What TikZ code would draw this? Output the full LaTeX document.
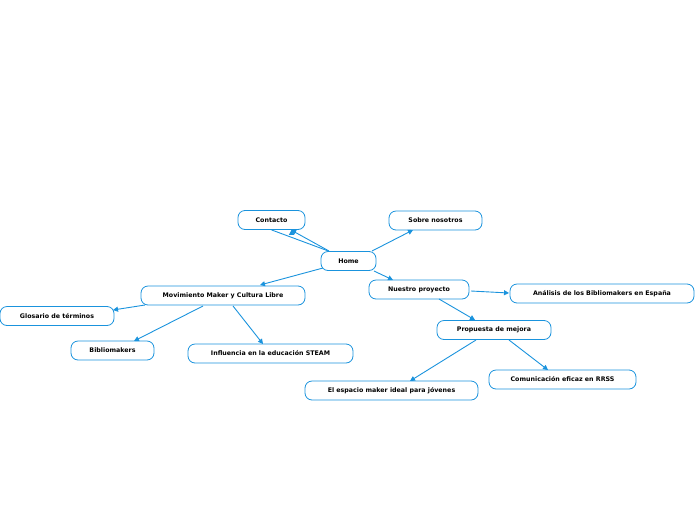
\documentclass[tikz,border=0pt]{standalone}
\usepackage{fontspec}
\setmainfont{DejaVu Sans}
\usetikzlibrary{arrows.meta}
\definecolor{bl}{HTML}{1A93DD}
\begin{document}
\begin{tikzpicture}[x=1pt,y=-1pt,
  box/.style={draw=bl,line width=0.8pt,rounded corners=7pt,fill=white,inner sep=0pt,minimum height=19pt,font=\fontsize{6.3}{7}\selectfont\bfseries},
  con/.style={draw=bl,line width=0.9pt,-{Triangle[length=5pt,width=5pt]}}]
\useasboundingbox (0,0) rectangle (696,520);
\node[box,minimum width=67pt] (contacto) at (271.5,220) {Contacto};
\node[box,minimum width=93pt] (sobre) at (435.5,220.5) {Sobre nosotros};
\node[box,minimum width=55pt] (home) at (348.5,261) {Home};
\node[box,minimum width=164pt] (mov) at (223,295.5) {Movimiento Maker y Cultura Libre};
\node[box,minimum width=100pt] (nuestro) at (419,289.5) {Nuestro proyecto};
\node[box,minimum width=184pt] (analisis) at (602,293.5) {Análisis de los Bibliomakers en España};
\node[box,minimum width=114pt] (glosario) at (57,316) {Glosario de términos};
\node[box,minimum width=83pt] (biblio) at (112.5,350.5) {Bibliomakers};
\node[box,minimum width=165pt] (influ) at (270.5,353.5) {Influencia en la educación STEAM};
\node[box,minimum width=114pt] (prop) at (494,330) {Propuesta de mejora};
\node[box,minimum width=173pt] (espacio) at (391.5,390.5) {El espacio maker ideal para jóvenes};
\node[box,minimum width=147pt] (comu) at (562.5,379.5) {Comunicación eficaz en RRSS};
\draw[con] (home.north west)++(8,0) -- (contacto.south)++(20,0);
\draw[con] (329,251) -- (291,230);
\draw[con] (372,251) -- (413,230);
\draw[con] (323,268) -- (260,285);
\draw[con] (374,271) -- (393,280);
\draw[con] (471,291) -- (509,293);
\draw[con] (145,305) -- (113,310);
\draw[con] (203,306) -- (134,341);
\draw[con] (233,306) -- (263,344);
\draw[con] (439,299) -- (475,320);
\draw[con] (476,340) -- (410,381);
\draw[con] (509,340) -- (548,370);
\end{tikzpicture}
\end{document}
